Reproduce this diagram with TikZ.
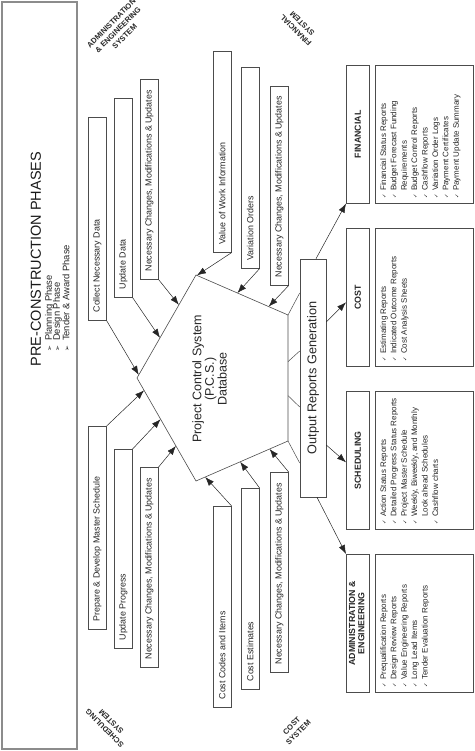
\documentclass[tikz,border=0pt]{standalone}
\usepackage{fontspec}
\setmainfont{Liberation Sans}
\newfontfamily\checkfont{DejaVu Sans}
\usepackage{graphicx}
\usetikzlibrary{calc,arrows.meta}

\newcommand{\chkmark}{{\checkfont\fontsize{5.5}{6}\selectfont ✓}\hspace{3pt}}
\newcommand{\chkgap}{\hphantom{\chkmark}}
\newcommand{\phbullet}{{\checkfont\fontsize{7}{7}\selectfont ➢}\hspace{5pt}}

\tikzset{
  box/.style={draw=black!70, line width=0.6pt, inner sep=0pt, minimum width=18pt, anchor=north west},
  boxtext/.style={rotate=90, anchor=west, inner sep=0pt, text=black!85, font=\fontsize{8.9}{10}\selectfont},
  feed/.style={draw=black!85, line width=0.5pt, -{Latex[length=9pt,width=6.5pt]}},
  link/.style={draw=black!70, line width=0.5pt},
  headbox/.style={draw=black!70, line width=0.6pt, inner sep=0pt, minimum width=23pt, minimum height=138pt, anchor=north west, text=black!85, font=\bfseries\fontsize{8.8}{9.3}\selectfont},
  listbox/.style={draw=black!70, line width=0.6pt, inner sep=0pt, minimum width=98pt, minimum height=138pt, anchor=north west},
  listtext/.style={rotate=90, anchor=north west, inner sep=0pt, align=left, text=black!85, font=\fontsize{8}{10.4}\selectfont},
  syslabel/.style={align=center, inner sep=0pt, text=black!85, font=\bfseries\fontsize{7.6}{9.4}\selectfont},
  phitem/.style={rotate=90, anchor=west, inner sep=0pt, text=black!85, font=\fontsize{9.4}{10}\selectfont},
}

\begin{document}
\begin{tikzpicture}[x=1pt, y=-1pt]
\useasboundingbox (0,0) rectangle (474,751);

% pre-construction phases
\node[draw=black!45, line width=1.4pt, minimum width=75pt, minimum height=747pt, inner sep=0pt] (phases) at (39.5,375.5) {};
\node[rotate=90, inner sep=0pt, text=black!90, font=\fontsize{14.5}{16}\selectfont] (phtitle) at (36,259) {PRE-CONSTRUCTION PHASES};
\node[phitem] (plan) at (49.5,352) {\phbullet Planning Phase};
\node[phitem] (design) at (57.5,352) {\phbullet Design Phase};
\node[phitem] (tender) at (66,352) {\phbullet Tender \& Award Phase};

% system labels
\node[syslabel, rotate=45] (sysae) at (118,30) {ADMINISTRATION\\\& ENGINEERING\\SYSTEM};
\node[syslabel, rotate=135] (sysfi) at (299,27) {FINANCIAL\\SYSTEM};
\node[syslabel, rotate=135] (syssc) at (108,725) {SCHEDULING\\SYSTEM};
\node[syslabel, rotate=45] (sysco) at (295,729) {COST\\SYSTEM};

% input boxes
\node[box, minimum height=203pt] (collect) at (88,117) {};
\node[box, minimum height=199pt] (updata) at (114,98) {};
\node[box, minimum height=200pt] (necae) at (140,79) {};
\node[box, minimum height=203pt] (prepare) at (88,426) {};
\node[box, minimum height=199pt] (updprog) at (114,449) {};
\node[box, minimum height=200pt] (necsc) at (140,467) {};
\node[box, minimum height=201pt] (valwork) at (213,51) {};
\node[box, minimum height=201pt] (varord) at (241,67) {};
\node[box, minimum height=199pt] (necfi) at (270,86) {};
\node[box, minimum height=201pt] (costcode) at (213,506) {};
\node[box, minimum height=201pt] (costest) at (241,488) {};
\node[box, minimum height=200pt] (necco) at (270,472) {};

\node[boxtext] at ([yshift=8pt]collect.south) {Collect Necessary Data};
\node[boxtext] at ([yshift=8pt]updata.south) {Update Data};
\node[boxtext] at ([yshift=8pt]necae.south) {Necessary Changes, Modifications \& Updates};
\node[boxtext] at ([yshift=8pt]prepare.south) {Prepare \& Develop Master Schedule};
\node[boxtext] at ([yshift=8pt]updprog.south) {Update Progress};
\node[boxtext] at ([yshift=8pt]necsc.south) {Necessary Changes, Modifications \& Updates};
\node[boxtext] at ([yshift=8pt]valwork.south) {Value of Work Information};
\node[boxtext] at ([yshift=8pt]varord.south) {Variation Orders};
\node[boxtext] at ([yshift=8pt]necfi.south) {Necessary Changes, Modifications \& Updates};
\node[boxtext] at ([yshift=8pt]costcode.south) {Cost Codes and Items};
\node[boxtext] at ([yshift=8pt]costest.south) {Cost Estimates};
\node[boxtext] at ([yshift=8pt]necco.south) {Necessary Changes, Modifications \& Updates};

% database
\coordinate (pL) at (137,378);
\coordinate (pT) at (196,275);
\coordinate (pUR) at (288,315);
\coordinate (pLR) at (288,441);
\coordinate (pB) at (196,481);
\draw[draw=black!70, line width=0.6pt] (pL) -- (pT) -- (pUR) -- (pLR) -- (pB) -- cycle;
\node[rotate=90, align=center, inner sep=0pt, text=black!85, font=\fontsize{12.5}{12.6}\selectfont] (pcs) at (209.5,379) {Project Control System\\(P.C.S.)\\Database};

\draw[feed] (collect.south east) -- ($(pL)!0.03!(pT)$);
\draw[feed] (updata.south east) -- ($(pL)!0.39!(pT)$);
\draw[feed] (necae.south east) -- ($(pL)!0.71!(pT)$);
\draw[feed] (prepare.north east) -- ($(pL)!0.12!(pB)$);
\draw[feed] (updprog.north east) -- ($(pL)!0.40!(pB)$);
\draw[feed] (necsc.north east) -- ($(pL)!0.66!(pB)$);
\draw[feed] (valwork.south east) -- ($(pT)!0.01!(pUR)$);
\draw[feed] (varord.south east) -- ($(pT)!0.45!(pUR)$);
\draw[feed] (necfi.south east) -- ($(pT)!0.79!(pUR)$);
\draw[feed] (costcode.north east) -- ($(pB)!0.10!(pLR)$);
\draw[feed] (costest.north east) -- ($(pB)!0.48!(pLR)$);
\draw[feed] (necco.north east) -- ($(pB)!0.80!(pLR)$);

% output reports
\node[draw=black!70, line width=0.6pt, minimum width=26pt, minimum height=238pt, inner sep=0pt, text=black!85, font=\fontsize{12.7}{13}\selectfont] (output) at (313,378) {\rotatebox{90}{Output Reports Generation}};
\draw[link] (pUR) -- ([yshift=85pt]output.west);
\draw[link] ($(pUR)!0.37!(pLR)$) -- ([yshift=27pt]output.west);
\draw[link] ($(pUR)!0.64!(pLR)$) -- ([yshift=-29pt]output.west);
\draw[link] (pLR) -- ([yshift=-85pt]output.west);

% report groups
\node[headbox] (finh) at (346,65) {\rotatebox{90}{FINANCIAL}};
\node[listbox] (finl) at (375,65) {};
\node[headbox] (costh) at (346,228) {\rotatebox{90}{COST}};
\node[listbox] (costl) at (375,228) {};
\node[headbox] (schh) at (346,391) {\rotatebox{90}{SCHEDULING}};
\node[listbox] (schl) at (375,391) {};
\node[headbox] (admh) at (346,554) {\rotatebox{90}{\begin{tabular}{@{}c@{}}ADMINISTRATION \&\\ENGINEERING\end{tabular}}};
\node[listbox] (adml) at (375,554) {};

\node[listtext] (fint) at ([xshift=5pt,yshift=5pt]finl.south west) {\chkmark Financial Status Reports\\ \chkmark Budget Forecast Funding\\ \chkgap Requirements\\ \chkmark Budget Control Reports\\ \chkmark Cashflow Reports\\ \chkmark Variation Order Logs\\ \chkmark Payment Certificates\\ \chkmark Payment Update Summary};
\node[listtext] (costt) at ([xshift=5pt,yshift=5pt]costl.south west) {\chkmark Estimating Reports\\ \chkmark Indicated Outcome Reports\\ \chkmark Cost Analysis Sheets};
\node[listtext] (scht) at ([xshift=5pt,yshift=5pt]schl.south west) {\chkmark Action Status Reports\\ \chkmark Detailed Progress Status Reports\\ \chkmark Project Master Schedule\\ \chkmark Weekly, Biweekly, and Monthly\\ \chkgap Look ahead Schedules\\ \chkmark Cashflow charts};
\node[listtext] (admt) at ([xshift=5pt,yshift=5pt]adml.south west) {\chkmark Prequalification Reports\\ \chkmark Design Review Reports\\ \chkmark Value Engineering Reports\\ \chkmark Long Lead Items\\ \chkmark Tender Evaluation Reports};

\draw[feed] ([xshift=3pt]output.north) -- (finh.south west);
\draw[feed] ([yshift=56pt]output.east) -- ([yshift=-5pt]costh.west);
\draw[feed] ([yshift=-67pt]output.east) -- ([yshift=-2pt]schh.west);
\draw[feed] ([xshift=4pt]output.south) -- (admh.north west);
\end{tikzpicture}
\end{document}
